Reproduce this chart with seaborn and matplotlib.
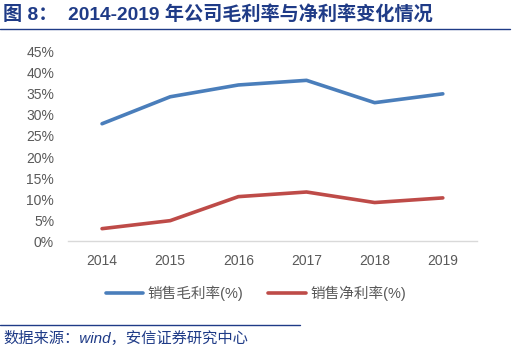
import matplotlib
matplotlib.use("Agg")
import matplotlib.pyplot as plt
import seaborn as sns
import pandas as pd
from matplotlib.lines import Line2D
from matplotlib.ticker import FuncFormatter

years = ["2014", "2015", "2016", "2017", "2018", "2019"]
gross_margin = [27.9, 34.3, 37.1, 38.2, 32.9, 35.0]
net_margin = [3.0, 4.9, 10.6, 11.7, 9.2, 10.3]
series_names = ["销售毛利率(%)", "销售净利率(%)"]
title_text = "图 8：  2014-2019 年公司毛利率与净利率变化情况"
source_text = "数据来源：wind，安信证券研究中心"

sns.set_theme(style="white")
fam = ["Liberation Sans", "Noto Sans CJK SC", "DejaVu Sans"]
plt.rcParams["font.family"] = fam

df = pd.DataFrame({
    "year": years * 2,
    "value": gross_margin + net_margin,
    "series": [series_names[0]] * 6 + [series_names[1]] * 6,
})

colors = ["#4A7EBB", "#BE4B48"]
fig = plt.figure(figsize=(5.15, 3.49), dpi=100)
ax = fig.add_axes([0.132, 0.3086, 0.794, 0.5433])
sns.lineplot(data=df, x="year", y="value", hue="series", palette=colors,
             linewidth=2.6, ax=ax, legend=False, sort=False)
for l in ax.lines:
    l.set_solid_capstyle("round")

ax.set_xlim(-0.5, 5.5)
ax.set_ylim(0, 45)
ax.set_yticks(range(0, 50, 5))
ax.yaxis.set_major_formatter(FuncFormatter(lambda v, p: f"{int(v)}%"))
ax.set_xlabel("")
ax.set_ylabel("")
for s in ["top", "right", "left"]:
    ax.spines[s].set_visible(False)
ax.spines["bottom"].set_color("#D9D9D9")
ax.spines["bottom"].set_linewidth(1.0)
ax.tick_params(axis="both", length=0, labelsize=10, colors="#595959")
ax.tick_params(axis="y", pad=10)
ax.tick_params(axis="x", pad=9)
ax.grid(False)

handles = [Line2D([0], [0], color=c, lw=2.6, solid_capstyle="round") for c in colors]
fig.legend(handles, series_names, loc="center", bbox_to_anchor=(0.497, 0.16),
           ncol=2, frameon=False, fontsize=10.5, handlelength=2.6,
           columnspacing=1.7, handletextpad=0.3, labelcolor="#595959")

navy = "#1F3B87"
fig.text(0.006, 1 - 14 / 349, title_text, fontsize=13.8, fontweight="bold",
         color=navy, va="center", ha="left", family=fam)
fig.add_artist(Line2D([0, 0.99], [1 - 28.5 / 349] * 2, color=navy, lw=1.0,
                      transform=fig.transFigure))
fig.add_artist(Line2D([0, 0.583], [1 - 325.3 / 349] * 2, color=navy, lw=1.0,
                      transform=fig.transFigure))
fig.text(0.006, 1 - 338 / 349, source_text, fontsize=11, style="italic",
         color=navy, va="center", ha="left", family=fam)

fig.savefig("out.png", dpi=100, facecolor="white")
